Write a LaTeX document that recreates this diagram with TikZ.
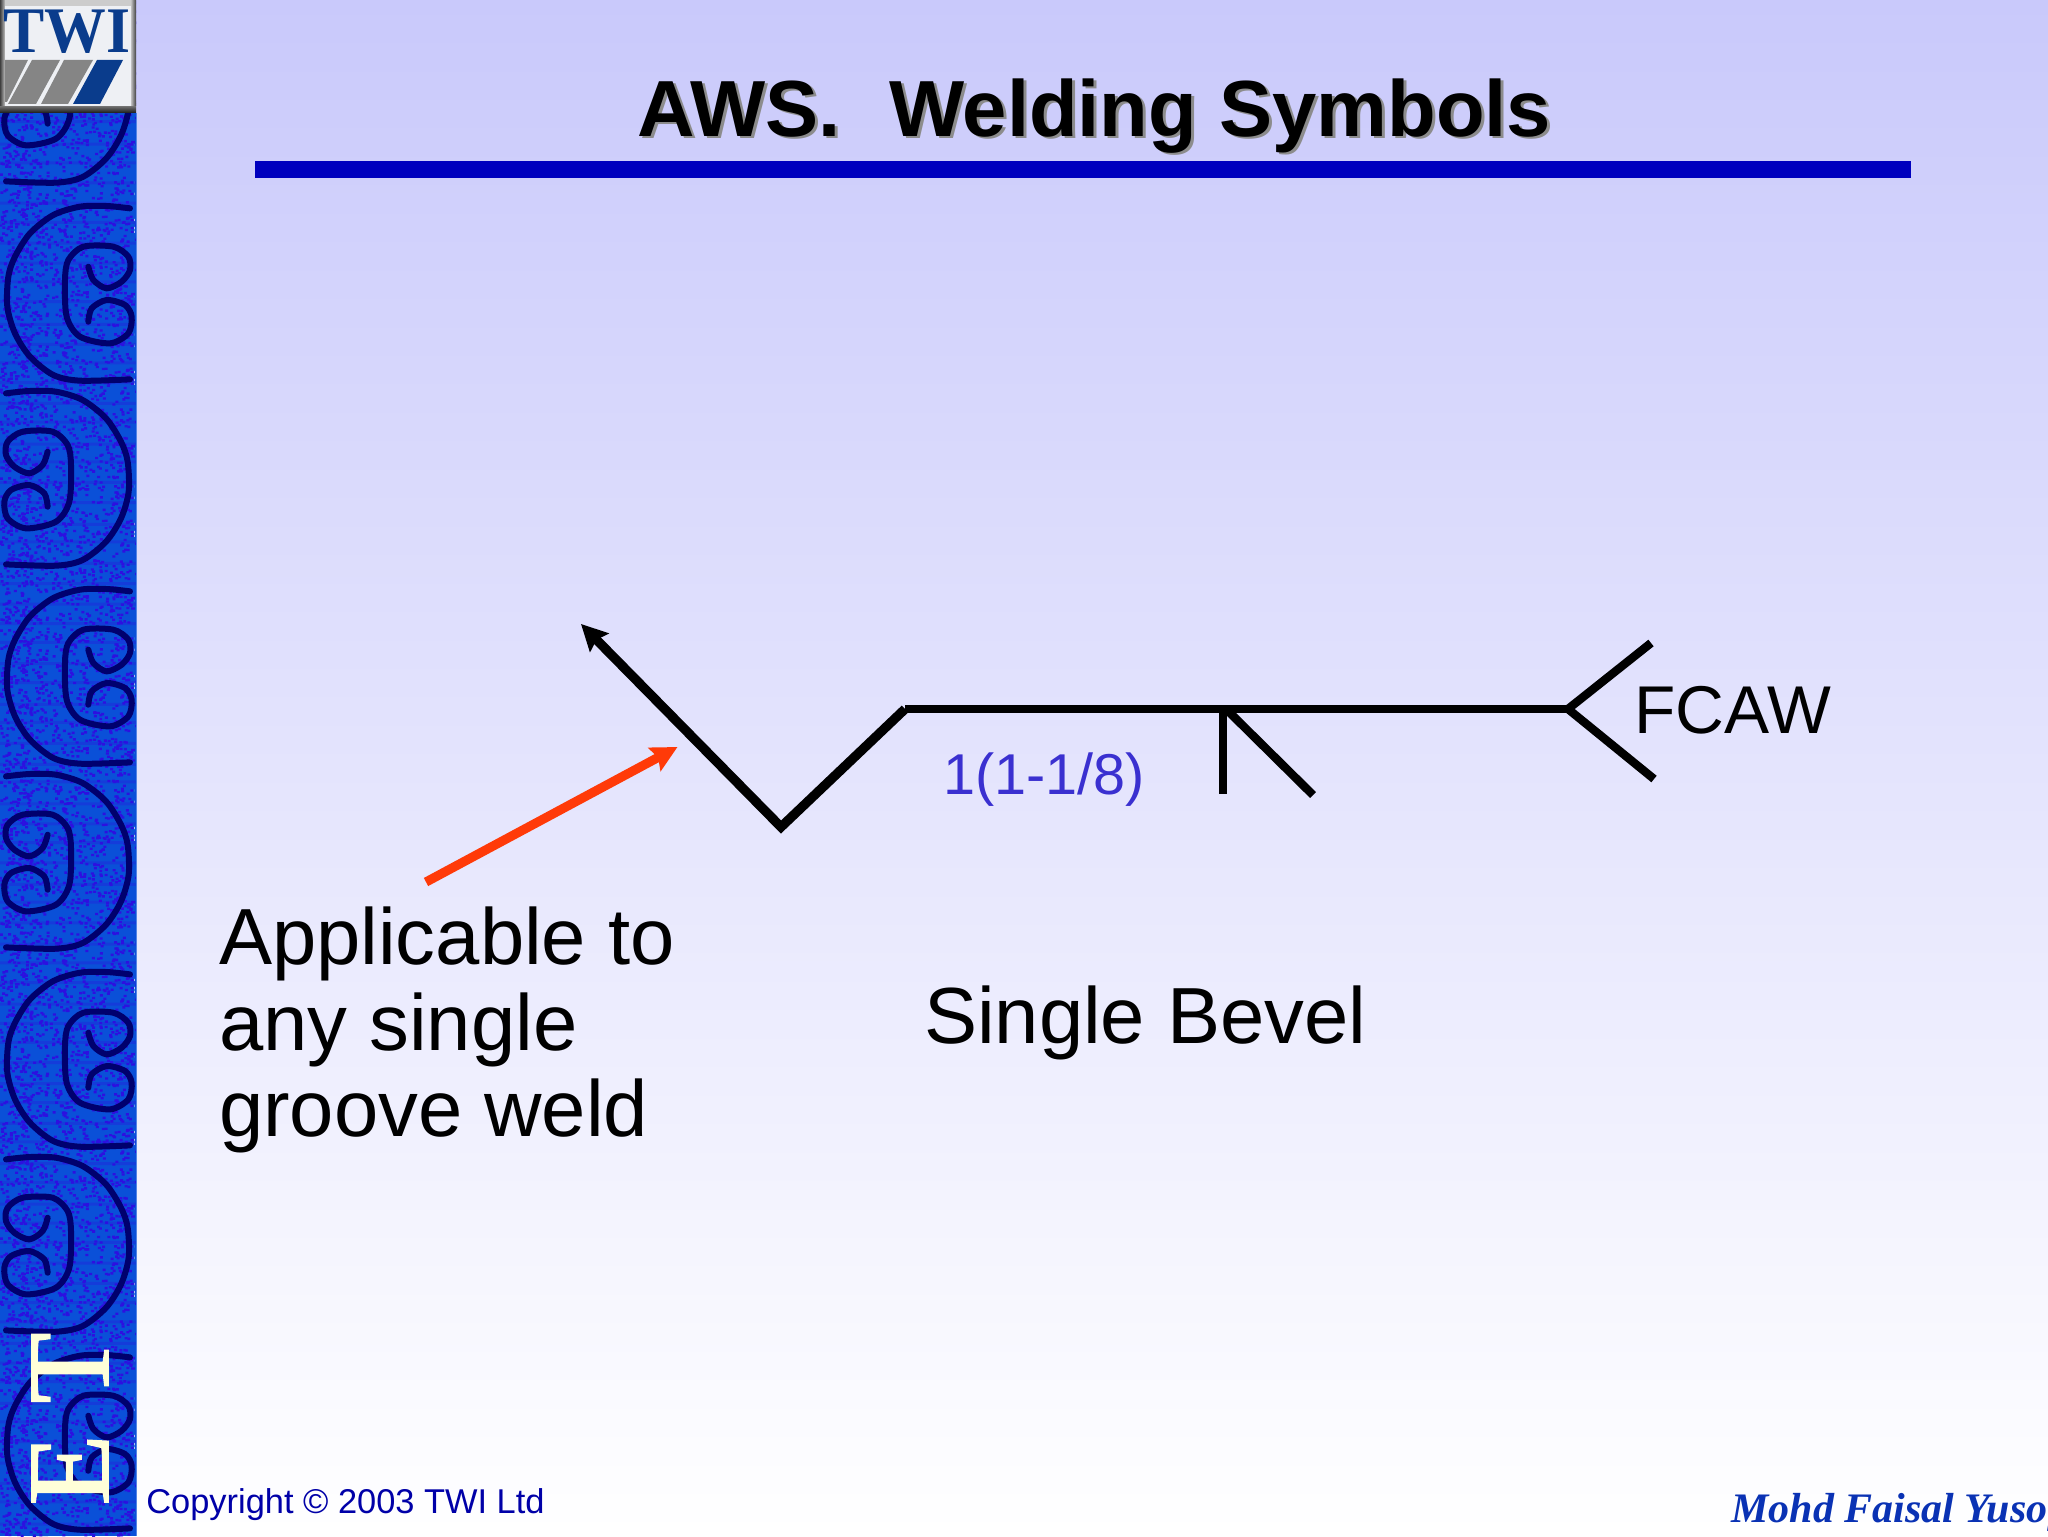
\documentclass[tikz,border=0pt]{standalone}
\usepackage{fontspec}
\usepackage{graphicx}
\setmainfont{Liberation Sans}
\newfontfamily\serifface{Liberation Serif}
\newfontfamily\etface[FakeBold=1.5]{Liberation Serif}
\usetikzlibrary{arrows.meta,patterns}
\definecolor{bgtop}{HTML}{C9C9FB}
\definecolor{barblue}{HTML}{0000BE}
\definecolor{sidebase}{HTML}{0A50D8}
\definecolor{sidenoise}{HTML}{2C10E0}
\definecolor{sidedark}{HTML}{00006E}
\definecolor{etcream}{HTML}{FFFFD8}
\definecolor{logonavy}{HTML}{0A3C8C}
\definecolor{logogrey}{HTML}{858585}
\definecolor{logolight}{HTML}{EEF0F4}
\definecolor{redarrow}{HTML}{FF3A08}
\definecolor{sizeblue}{HTML}{3A30D0}
\definecolor{copyblue}{HTML}{0000A8}
\definecolor{signblue}{HTML}{0A32B4}
\pgfmathsetseed{4242}
\pgfdeclarepatterninherentlycolored{bandnoise}{\pgfpointorigin}{\pgfpoint{68pt}{76pt}}{\pgfpoint{68pt}{76pt}}{%
  \pgfsetfillcolor{sidenoise}%
  \foreach \i in {1,...,700}{%
    \pgfmathsetmacro\ax{rnd*66.5}%
    \pgfmathsetmacro\ay{rnd*74.8}%
    \pgfpathrectangle{\pgfpoint{\ax pt}{\ay pt}}{\pgfpoint{1.5pt}{1.2pt}}%
    \pgfusepath{fill}%
  }%
}
\tikzset{
  label text/.style={inner sep=0pt,outer sep=0pt,anchor=base west,font=\fontsize{39.8}{43}\selectfont,text=black},
  title text/.style={inner sep=0pt,anchor=base west,font=\bfseries\fontsize{39.8}{43}\selectfont},
  et letter/.style={inner sep=0pt,rotate=90,font=\etface\fontsize{58}{58}\selectfont,text=etcream},
  weld line/.style={line width=4.2pt,black,line join=miter,line cap=butt},
  weld tip/.style={-{Stealth[length=13pt,width=13pt,inset=2pt]}},
  motif line/.style={line width=3pt,sidedark,line cap=round},
}
\newcommand{\swirl}{%
  \draw[motif line] plot[smooth] coordinates {(390,325) (320,318) (240,320) (160,345) (90,400) (45,470) (25,530) (22,620) (45,700) (90,770) (160,825) (240,842) (390,838)};
  \draw[motif line] plot[smooth] coordinates {(265,500) (280,540) (320,565) (365,545) (390,510) (385,470) (340,440) (250,440) (205,480) (195,540) (200,650) (240,710) (330,730) (385,700) (395,650) (375,615) (320,600) (275,625) (265,665)};
}
\begin{document}
\begin{tikzpicture}[x=0.5pt,y=-0.5pt]
\useasboundingbox (0,0) rectangle (2048,1536);
% background
\shade[top color=bgtop,bottom color=white] (0,0) rectangle (2048,1536);
% side band
\begin{scope}
\clip (0,0) rectangle (136,1536);
\fill[sidebase] (0,0) rectangle (136,1536);
\fill[pattern=bandnoise] (0,0) rectangle (136,1536);
\fill[sidenoise,opacity=.3] \foreach \i in {0,...,76}{ (0,\i*20+3*rnd) rectangle ++(136,3) };
\foreach \k in {-1,0,1,2,3}{
  \begin{scope}[x=0.16667pt,y=-0.16667pt,shift={(0,\k*1149+300)}]
    \swirl
  \end{scope}
  \begin{scope}[x=-0.16667pt,y=-0.16667pt,shift={(-408,\k*1149+855)}]
    \swirl
  \end{scope}
}
\end{scope}
\draw[line width=.5pt,sidebase!70!white] (136,113) -- (136,1536);
\node[et letter] (letterE) at (70,1470) {E};
\node[et letter] (letterT) at (70,1368) {T};
% logo
\fill[black!85] (0,0) rectangle (136,113);
\shade[top color=black!45,bottom color=black!90] (0,104) rectangle (136,113);
\shade[left color=black!75,right color=black!25] (0,0) rectangle (5,106);
\shade[left color=black!25,right color=black!75] (131,0) rectangle (136,106);
\fill[black!20] (5,0) rectangle (131,6);
\fill[logolight] (5,6) rectangle (131,106);
\node[inner sep=0pt,anchor=base,text=logonavy,font=\serifface\bfseries\fontsize{32.5}{33}\selectfont] (logo) at (67,53) {\scalebox{.95}[1]{TWI}};
\fill[logogrey] (5,60) -- (28,60) -- (7,102) -- (5,102) -- cycle;
\fill[logogrey] (32,60) -- (60,60) -- (36,104) -- (8,104) -- cycle;
\fill[logogrey] (64,60) -- (93,60) -- (68,104) -- (41,104) -- cycle;
\fill[logonavy] (97,60) -- (123,60) -- (100,104) -- (73,104) -- cycle;
% title
\node[title text,text=black!45] (titleshadow) at (640,139) {AWS.\ \ \hspace{2pt}Welding Symbols};
\node[title text,text=black] (title) at (637,136) {AWS.\ \ \hspace{2pt}Welding Symbols};
\fill[barblue] (255,161) rectangle (1911,178);
% welding symbol
\coordinate (tip) at (581,624);
\coordinate (kink) at (781,827);
\coordinate (shoulder) at (905,709);
\coordinate (tailfork) at (1568,709);
\coordinate (forkup) at (1651,643);
\coordinate (forkdown) at (1654,779);
\coordinate (bevroot) at (1223,709);
\coordinate (bevfoot) at (1223,794);
\coordinate (bevtop) at (1226,709);
\coordinate (bevend) at (1313,795);
\coordinate (redtail) at (426,882);
\coordinate (redtip) at (677.5,747);
\draw[weld line,line width=4.7pt,weld tip] (shoulder) -- (kink) -- (tip);
\draw[weld line] (shoulder) -- (tailfork);
\draw[weld line] (forkup) -- (tailfork) -- (forkdown);
\draw[weld line] (bevroot) -- (bevfoot);
\draw[weld line] (bevtop) -- (bevend);
\draw[line width=4.6pt,redarrow,weld tip] (redtail) -- (redtip);
% labels
\node[inner sep=0pt,anchor=base west,font=\fontsize{33.8}{36}\selectfont] (fcaw) at (1634,733) {FCAW};
\node[inner sep=0pt,anchor=base west,text=sizeblue,font=\fontsize{28.8}{31}\selectfont] (size) at (943,794) {1(1-1/8)};
\node[label text,align=left] (applic) at (219,1136) {Applicable to\\any single\\groove weld};
\node[label text] (bevel) at (924,1043) {Single Bevel};
\node[inner sep=0pt,anchor=base west,text=copyblue,font=\fontsize{17.2}{19}\selectfont] (copy) at (146,1513) {Copyright © 2003 TWI Ltd};
\node[inner sep=0pt,anchor=base west,text=signblue,font=\serifface\bfseries\itshape\fontsize{21}{23}\selectfont] (sign) at (1731,1522) {Mohd Faisal Yusof};
\end{tikzpicture}
\end{document}
